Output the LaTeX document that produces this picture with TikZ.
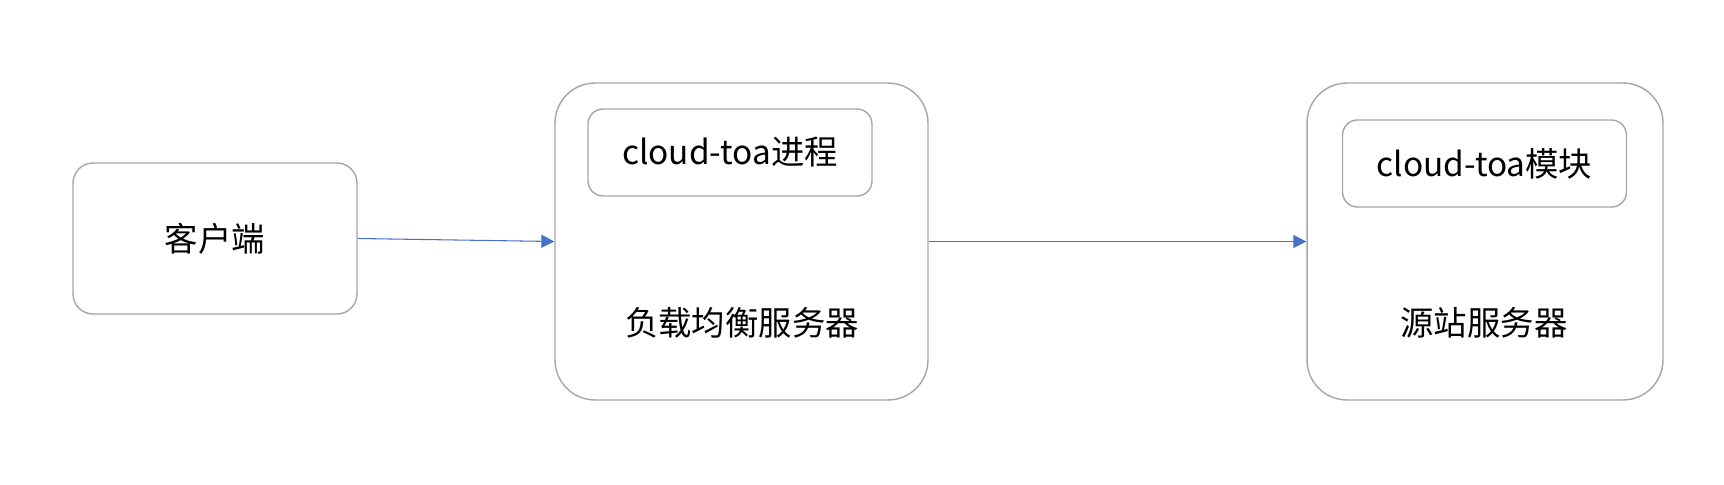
\documentclass[tikz,border=0pt]{standalone}
\usepackage{fontspec}
\setmainfont{Noto Sans CJK SC}
\usepackage{tikz}
\usetikzlibrary{arrows.meta}
\definecolor{boxgray}{HTML}{A6A6A6}
\definecolor{linkblue}{HTML}{4472C4}

\begin{document}
\begin{tikzpicture}[x=0.02cm, y=-0.02cm,
    every node/.style={font=\fontsize{19}{22}\selectfont},
    hostbox/.style={draw=boxgray, line width=0.8pt, rounded corners=0.8cm},
    procbox/.style={draw=boxgray, line width=0.8pt, rounded corners=0.3cm, minimum width=5.68cm, minimum height=1.74cm},
    link/.style={draw=linkblue, line width=0.6pt, -{Triangle[length=0.26cm, width=0.26cm]}}]
                \useasboundingbox (0,0) rectangle (1724,484);
                % Client, load balancer and origin server
                \node[draw=boxgray, line width=0.8pt, rounded corners=0.4cm, minimum width=5.68cm, minimum height=3.02cm] (client) at (215, 238.5) {客户端};
                \node[hostbox, minimum width=7.46cm, minimum height=6.34cm] (lb) at (741.5, 241.5) {};
                \node[hostbox, minimum width=7.12cm, minimum height=6.34cm] (origin) at (1485, 241.5) {};

                % Modules inside the servers
                \node[procbox] (proc) at (730, 152.5) {cloud-toa进程};
                \node[procbox] (mod) at (1484.5, 163.5) {cloud-toa模块};
                \node (lblabel) at (742, 323) {负载均衡服务器};
                \node (originlabel) at (1484, 323) {源站服务器};

                \draw[link] (client.east) -- (lb.west);
                \draw[link] (lb.east) -- (origin.west);
            \end{tikzpicture}
\end{document}
